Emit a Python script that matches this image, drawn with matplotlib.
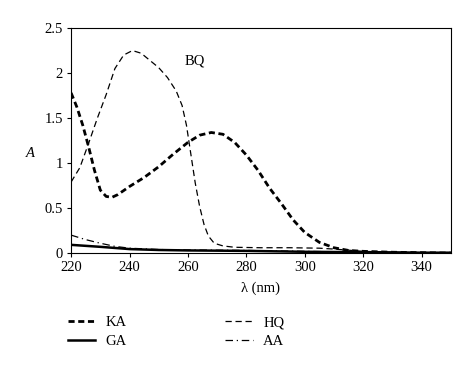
import matplotlib.pyplot as plt

plt.rcParams["font.family"] = ["Liberation Serif", "DejaVu Serif"]

# wavelengths (nm) and absorbance
ka_x = [220, 222, 224, 226, 228, 230, 232, 234, 236, 240, 245, 250, 255, 260,
        264, 268, 272, 276, 280, 284, 288, 292, 296, 300, 305, 310, 315, 320,
        330, 340, 350]
ka_y = [1.78, 1.62, 1.42, 1.18, 0.92, 0.70, 0.63, 0.62, 0.65, 0.74, 0.84, 0.96,
        1.10, 1.23, 1.31, 1.34, 1.32, 1.23, 1.09, 0.92, 0.72, 0.55, 0.37, 0.23,
        0.12, 0.06, 0.03, 0.02, 0.01, 0.005, 0.0]

hq_x = [220, 223, 226, 229, 232, 235, 238, 241, 244, 247, 250, 253, 256, 258,
        259.5, 261, 262.5, 264, 265.5, 267, 269, 272, 276, 285, 295, 305, 310,
        320, 330, 340, 350]
hq_y = [0.79, 0.95, 1.22, 1.50, 1.76, 2.05, 2.20, 2.25, 2.22, 2.14, 2.06, 1.95,
        1.80, 1.64, 1.42, 1.10, 0.78, 0.52, 0.32, 0.19, 0.11, 0.08, 0.065, 0.06,
        0.06, 0.055, 0.045, 0.02, 0.01, 0.005, 0.005]

ga_x = [220, 230, 240, 250, 260, 280, 300, 320, 340, 350]
ga_y = [0.092, 0.07, 0.045, 0.035, 0.03, 0.025, 0.015, 0.01, 0.005, 0.005]

aa_x = [220, 225, 230, 235, 240, 250, 260, 280, 300, 320, 340, 350]
aa_y = [0.20, 0.15, 0.11, 0.075, 0.055, 0.04, 0.035, 0.03, 0.02, 0.01, 0.005, 0.005]

fig = plt.figure(figsize=(4.74, 3.69), dpi=100)
ax = fig.add_axes([0.150, 0.314, 0.801, 0.610])

ka, = ax.plot(ka_x, ka_y, color="black", lw=2.0, dashes=(2.2, 1.3), label="KA")
ga, = ax.plot(ga_x, ga_y, color="black", lw=1.8, label="GA")
hq, = ax.plot(hq_x, hq_y, color="black", lw=0.9, dashes=(5, 3), label="HQ")
aa, = ax.plot(aa_x, aa_y, color="black", lw=0.9, dashes=(6, 3, 1, 3), label="AA")

ax.text(259, 2.1, "BQ", fontsize=10.5)

ax.set_xlim(220, 350)
ax.set_ylim(0, 2.5)
ax.set_xticks(range(220, 341, 20))
ax.set_yticks([0, 0.5, 1, 1.5, 2, 2.5])
ax.set_yticklabels(["0", "0.5", "1", "1.5", "2", "2.5"])
ax.tick_params(labelsize=10.5, length=3, width=0.8, direction="out", pad=3)
for s in ax.spines.values():
    s.set_linewidth(0.8)

ax.set_xlabel("λ (nm)", fontsize=10.5, labelpad=5)
ax.set_ylabel("A", fontsize=10.5, style="italic", rotation=0, va="center")
ax.yaxis.set_label_coords(-0.108, 0.444)

fig.legend(handles=[ka, ga, hq, aa], ncol=2, loc="upper left",
           bbox_to_anchor=(0.143, 0.143), frameon=False, fontsize=10.5,
           handlelength=1.9, handletextpad=0.7, columnspacing=6.75,
           labelspacing=0.4, borderpad=0, borderaxespad=0)

fig.savefig("out.png", dpi=100)
